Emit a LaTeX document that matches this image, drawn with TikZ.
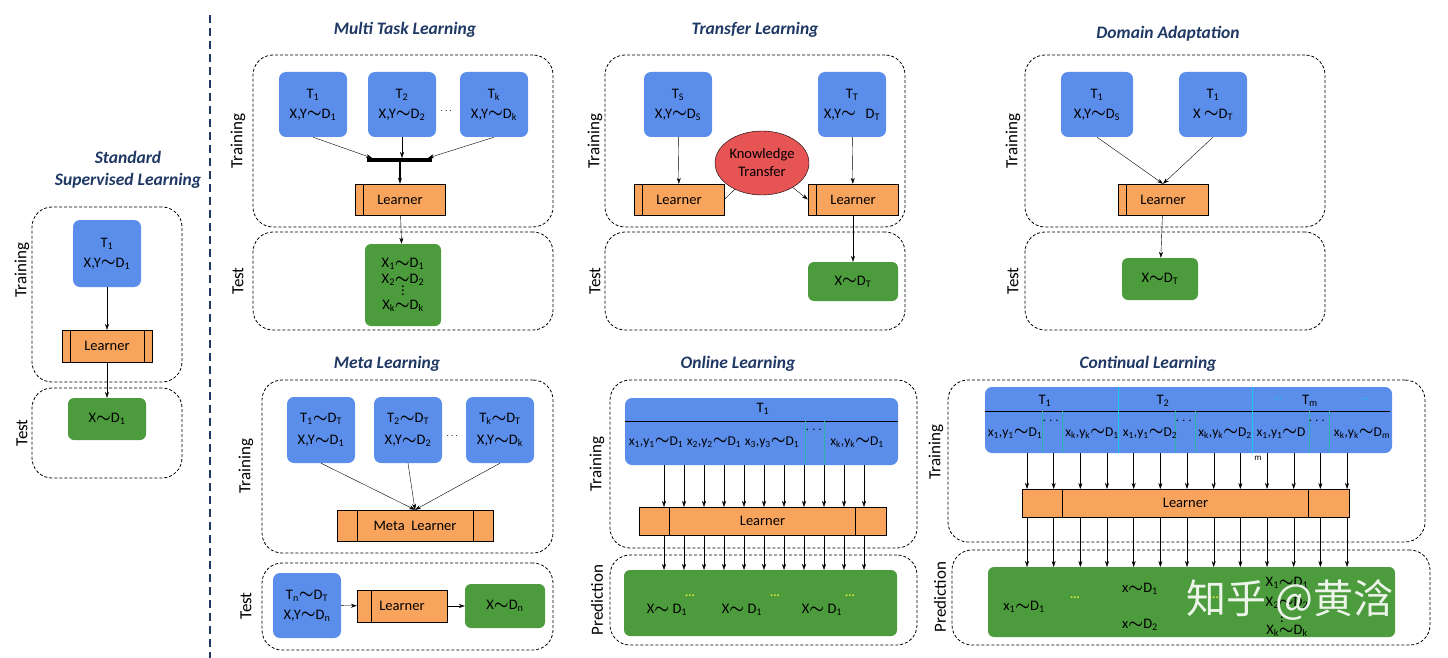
\documentclass[tikz,border=0pt]{standalone}
\usepackage{amsmath,amssymb}
\usepackage{fontspec}
\setmainfont{Carlito}
\newfontfamily\cjk{Noto Sans CJK SC}
\usetikzlibrary{calc,arrows.meta,shapes.geometric}
\definecolor{bb}{HTML}{5B8DEA}
\definecolor{oo}{HTML}{F8A45C}
\definecolor{gg}{HTML}{4C9B3C}
\definecolor{rr}{HTML}{E65454}
\definecolor{tt}{HTML}{1F3864}
\definecolor{cy}{HTML}{1CC8E8}
\definecolor{te}{HTML}{2FB0A8}
\definecolor{yy}{HTML}{E8F040}
\newcommand\ssb[1]{\textsubscript{#1}}
\newcommand\tl{\raisebox{0.5pt}{\scalebox{1.15}{$\boldsymbol{\sim}$}}}
\begin{document}
\begin{tikzpicture}[x=1pt,y=-1pt,
 every node/.style={font=\fontsize{14.5}{18}\selectfont, inner sep=0pt},
 row/.style={font=\fontsize{13.5}{16}\selectfont},
 frame/.style={draw=black, line width=0.8pt, dash pattern=on 3pt off 2pt, rounded corners=20},
 bx/.style={fill=bb, rounded corners=7, align=center},
 lrn/.style={fill=oo, draw, thin},
 grn/.style={fill=gg, rounded corners=6, align=center},
 ttl/.style={font=\fontsize{17.5}{22}\selectfont\bfseries\itshape, text=tt, align=center},
 side/.style={rotate=90, font=\fontsize{17}{19}\selectfont},
 ar/.style={-{Stealth[length=6pt,width=4pt]}, thin},
 dt/.style={text=yy, font=\fontsize{12}{12}\selectfont\bfseries}]
\useasboundingbox (0,0) rectangle (1448,658);
\fill[white] (0,0) rectangle (1448,658);
\draw[tt, line width=2pt, dash pattern=on 8pt off 5pt] (210,15) -- (210,658);
% Standard
\node[ttl] (st) at (128,170) {Standard\\Supervised Learning};
\node[frame, minimum width=150, minimum height=175] (sf1) at (107,294.5) {};
\node[frame, minimum width=150, minimum height=90] (sf2) at (107,433) {};
\node[side] (sl1) at (22,270) {Training};
\node[side] (sl2) at (22,433) {Test};
\node[bx, minimum width=68, minimum height=67] (st1) at (107,253.5) {T\ssb1\\[2pt]X,Y\tl D\ssb1};
\node[lrn, minimum width=90, minimum height=32] (sl) at (107,346) {Learner};
\draw ($(sl.north west)+(8,0)$) -- ($(sl.south west)+(8,0)$) ($(sl.north east)+(-8,0)$) -- ($(sl.south east)+(-8,0)$);
\node[grn, minimum width=78, minimum height=42] (sg) at (107,419) {X\tl D\ssb1};
\draw[ar] (st1) -- (sl); \draw[ar] (sl) -- (sg);
% Multi task
\node[ttl] (mt) at (405,30) {Multi Task Learning};
\node[frame, minimum width=300, minimum height=172] (mf1) at (403,141) {};
\node[frame, minimum width=300, minimum height=98] (mf2) at (403,281) {};
\node[side] at (238,141) {Training};
\node[side] at (238,281) {Test};
\node[bx, minimum width=68, minimum height=65] (m1) at (313,104.5) {T\ssb1\\[2pt]X,Y\tl D\ssb1};
\node[bx, minimum width=68, minimum height=65] (m2) at (402,104.5) {T\ssb2\\[2pt]X,Y\tl D\ssb2};
\node[bx, minimum width=68, minimum height=65] (m3) at (494,104.5) {T\ssb k\\[2pt]X,Y\tl D\ssb k};
\node[font=\bfseries] at (447,111) {$\cdots$};
\coordinate (ba) at (367,160); \coordinate (bb2) at (432,160); \coordinate (bc) at (400,160);
\draw[line width=4pt] (ba) -- (bb2);
\node[lrn, minimum width=90, minimum height=31] (ml) at (400,199.5) {Learner};
\draw[ar] (m1.south) -- (372,158); \draw[ar] (m2.south) -- (402,158); \draw[ar] (m3.south) -- (428,158);
\draw[ar, line width=1.5pt] (bc) -- (ml);
\node[grn, minimum width=76, minimum height=82] (mg) at (403,285) {X\ssb1\tl D\ssb1\\[-2pt]X\ssb2\tl D\ssb2\\[-6pt]$\vdots$\\[-4pt]X\ssb k\tl D\ssb k};
\draw[ar] (ml) -- (mg);
% Transfer
\node[ttl] at (755,30) {Transfer Learning};
\node[frame, minimum width=300, minimum height=172] (tf1) at (755,141) {};
\node[frame, minimum width=300, minimum height=98] (tf2) at (755,281) {};
\node[side] at (595,141) {Training};
\node[side] at (595,281) {Test};
\node[bx, minimum width=68, minimum height=65] (ts) at (678,104.5) {T\ssb S\\[2pt]X,Y\tl D\ssb S};
\node[bx, minimum width=68, minimum height=65] (tT) at (852,104.5) {T\ssb T\\[2pt]X,Y\tl\ \ \ D\ssb T};
\node[lrn, minimum width=90, minimum height=31] (tl1) at (679,199.5) {Learner};
\node[lrn, minimum width=90, minimum height=31] (tl2) at (853,199.5) {Learner};
\foreach \n in {tl1,tl2,ml}{\draw ($(\n.north west)+(8,0)$) -- ($(\n.south west)+(8,0)$);}
\node[ellipse, fill=rr, draw, minimum width=94, minimum height=64, align=center] (kt) at (762,163) {Knowledge\\Transfer};
\draw[ar] (ts) -- (tl1); \draw[ar] (tT) -- (tl2);
\draw (kt) -- (tl1.east); \draw[ar] (kt) -- (tl2.west);
\node[grn, minimum width=90, minimum height=39] (tg) at (853,281.5) {X\tl D\ssb T};
\draw[ar] (tl2) -- (tg);
% Domain
\node[ttl] at (1168,34) {Domain Adaptation};
\node[frame, minimum width=300, minimum height=172] (df1) at (1175,141) {};
\node[frame, minimum width=300, minimum height=98] (df2) at (1175,281) {};
\node[side] at (1013,141) {Training};
\node[side] at (1013,281) {Test};
\node[bx, minimum width=72, minimum height=65] (d1) at (1097,104.5) {T\ssb1\\[2pt]X,Y\tl D\ssb S};
\node[bx, minimum width=68, minimum height=65] (d2) at (1213,104.5) {T\ssb1\\[2pt]X \tl D\ssb T};
\node[lrn, minimum width=90, minimum height=31] (dl) at (1163,199.5) {Learner};
\draw ($(dl.north west)+(8,0)$) -- ($(dl.south west)+(8,0)$);
\draw[ar] (d1.south) -- (dl.north); \draw[ar] (d2.south) -- (dl.north);
\node[grn, minimum width=76, minimum height=42] (dg) at (1160,279) {X\tl D\ssb T};
\draw[ar] (dl) -- (dg);
% Meta
\node[ttl] at (387,364) {Meta Learning};
\node[frame, minimum width=291, minimum height=173] (ef1) at (407.5,466.5) {};
\node[frame, minimum width=291, minimum height=87] (ef2) at (407.5,606.5) {};
\node[side] at (246,466) {Training};
\node[side] at (246,606) {Test};
\node[bx, minimum width=68, minimum height=66] (e1) at (321,430) {T\ssb1\tl D\ssb T\\[4pt]X,Y\tl D\ssb1};
\node[bx, minimum width=68, minimum height=66] (e2) at (408,430) {T\ssb2\tl D\ssb T\\[4pt]X,Y\tl D\ssb2};
\node[bx, minimum width=68, minimum height=66] (e3) at (500,430) {T\ssb k\tl D\ssb T\\[4pt]X,Y\tl D\ssb k};
\node[font=\bfseries] at (453,436) {$\cdots$};
\node[lrn, minimum width=156, minimum height=31] (el) at (415,525.5) {Meta\ \ Learner};
\draw ($(el.north west)+(20,0)$) -- ($(el.south west)+(20,0)$) ($(el.north east)+(-20,0)$) -- ($(el.south east)+(-20,0)$);
\draw[ar] (e1.south) -- (el.north); \draw[ar] (e2.south) -- (el.north); \draw[ar] (e3.south) -- (el.north);
\node[bx, minimum width=68, minimum height=65] (en) at (307,605.5) {T\ssb n\tl D\ssb T\\[2pt]X,Y\tl D\ssb n};
\node[lrn, minimum width=90, minimum height=32] (el2) at (402,606) {Learner};
\draw ($(el2.north west)+(14,0)$) -- ($(el2.south west)+(14,0)$);
\node[grn, minimum width=80, minimum height=44] (eg) at (505,606) {X\tl D\ssb n};
\draw[ar] (en) -- (el2); \draw[ar] (el2) -- (eg);
% Online
\node[ttl] at (738,364) {Online Learning};
\node[frame, minimum width=307, minimum height=168] (of1) at (763.5,464) {};
\node[frame, minimum width=307, minimum height=90] (of2) at (763.5,600) {};
\node[side] at (597,464) {Training};
\node[side] at (597,600) {Prediction};
\node[bx, minimum width=273, minimum height=67] (ob) at (761.5,431.5) {};
\draw (ob.west |- 0,421) -- (ob.east |- 0,421);
\node at (763,409) {T\ssb1};
\draw[te, thick] (805,421) -- (805,465) (824,421) -- (824,465);
\node[row] at (656,442) {x\ssb1,y\ssb1\tl D\ssb1};
\node[row] at (714,442) {x\ssb2,y\ssb2\tl D\ssb1};
\node[row] at (772,442) {x\ssb3,y\ssb3\tl D\ssb1};
\node at (815,430) {$\cdots$};
\node[row] at (857,442) {x\ssb k,y\ssb k\tl D\ssb1};
\node[lrn, minimum width=247, minimum height=28] (ol) at (762.5,521) {Learner};
\draw (669,507) -- (669,535) (855,507) -- (855,535);
\node[grn, minimum width=273, minimum height=66] (og) at (760.5,603) {};
\foreach \x in {664,684,...,864}{\draw[ar] (\x,465) -- (\x,507); \draw[ar] (\x,535) -- (\x,570);}
\node at (667,610) {X\tl\ D\ssb1}; \node at (742,610) {X\tl\ D\ssb1}; \node at (822,610) {X\tl\ D\ssb1};
\node[dt] at (690,596) {...}; \node[dt] at (775,596) {...}; \node[dt] at (850,596) {...};
% Continual
\node[ttl] at (1148,364) {Continual Learning};
\node[frame, minimum width=477, minimum height=162] (cf1) at (1186.5,461) {};
\node[frame, minimum width=478, minimum height=95] (cf2) at (1191,597.5) {};
\node[side] at (936,452) {Training};
\node[side] at (940,597) {Prediction};
\node[bx, minimum width=407, minimum height=66] (cb) at (1188.5,420) {};
\draw (985,411) -- (1390,411);
\draw[cy, thick] (1118,387) -- (1118,453) (1252,387) -- (1252,453);
\draw[te, thick] (1042,411) -- (1042,453) (1062,411) -- (1062,453) (1175,411) -- (1175,453) (1195,411) -- (1195,453) (1309,411) -- (1309,453) (1329,411) -- (1329,453);
\node at (1045,401) {T\ssb1}; \node at (1163,401) {T\ssb2}; \node at (1310,401) {T\ssb m};
\node[text=cy, font=\bfseries] at (1278,399) {...}; \node[text=cy, font=\bfseries] at (1365,399) {...};
\node[row] at (1015,433) {x\ssb1,y\ssb1\tl D\ssb1};
\node at (1052,421) {$\cdots$};
\node[row] at (1092,433) {x\ssb k,y\ssb k\tl D\ssb1};
\node[row] at (1150,433) {x\ssb1,y\ssb1\tl D\ssb2};
\node at (1185,421) {$\cdots$};
\node[row] at (1225,433) {x\ssb k,y\ssb k\tl D\ssb2};
\node[row] at (1281,433) {x\ssb1,y\ssb1\tl D};
\node[font=\fontsize{9}{10}\selectfont] at (1258,458) {m};
\node at (1318,421) {$\cdots$};
\node[row] at (1362,433) {x\ssb k,y\ssb k\tl D\ssb m};
\node[lrn, minimum width=327, minimum height=28] (cl) at (1185.5,503) {Learner};
\draw (1062,489) -- (1062,517) (1308,489) -- (1308,517);
\node[grn, minimum width=407, minimum height=70] (cg) at (1191.5,602) {};
\foreach \i in {0,...,12}{\pgfmathsetmacro\xx{1027+26.67*\i}
 \draw[ar] (\xx,453) -- (\xx,489); \draw[ar] (\xx,517) -- (\xx,567);}
\node at (1024,607) {x\ssb1\tl D\ssb1};
\node[dt] at (1075,598) {...};
\node at (1140,589) {x\tl D\ssb1};
\node at (1140,625) {x\tl D\ssb2};
\node[dt] at (1214,598) {...};
\node at (1287,583) {X\ssb1\tl D\ssb1};
\node at (1287,603) {X\ssb2\tl D\ssb2};
\node at (1282,615) {$\vdots$};
\node at (1287,631) {X\ssb k\tl D\ssb k};
\node[text=white, font=\cjk\fontsize{40}{44}\selectfont, opacity=0.9] at (1290,600) {知乎 @黄浛};
\end{tikzpicture}
\end{document}
